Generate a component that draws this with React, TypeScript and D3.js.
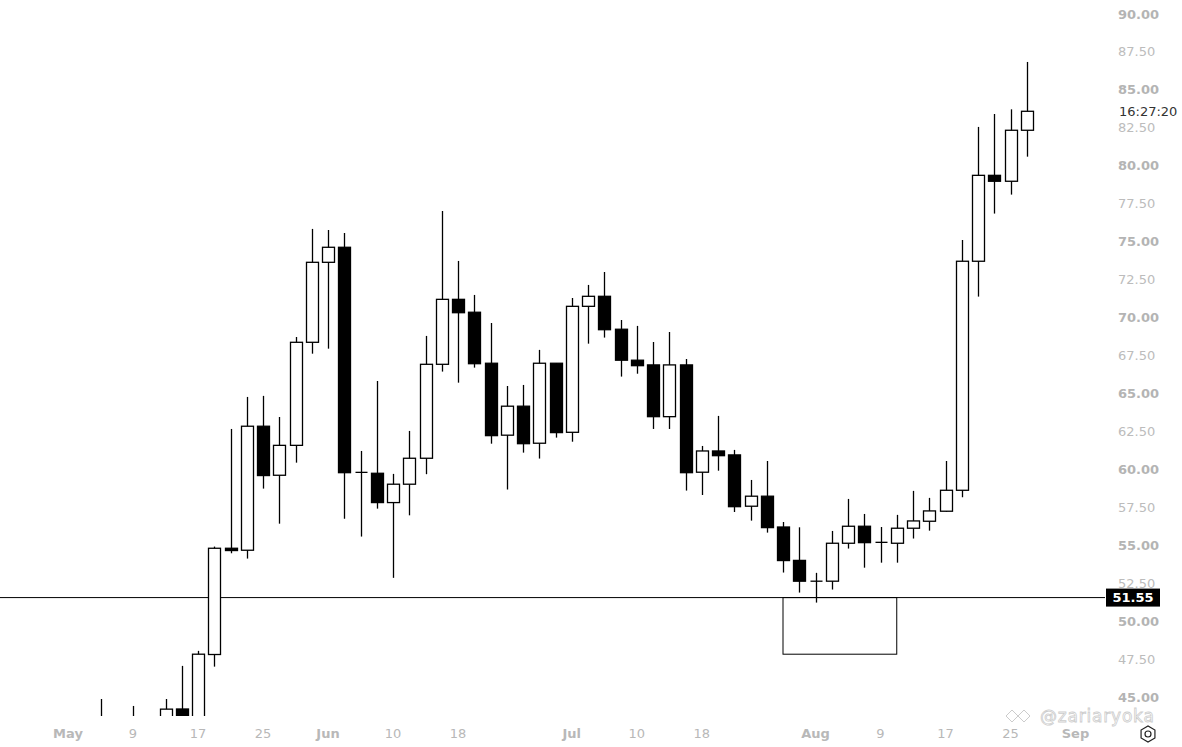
import React from 'react'
import * as d3 from 'd3'

// 2-day candles, index = slot on the time axis (slot 0 = "May" label)
const slots = [2,3,4,5,6,7,8,9,10,11,12,13,14,15,16,17,18,19,20,21,22,23,24,25,26,27,28,29,30,31,32,33,34,35,36,37,38,39,40,41,42,43,44,45,46,47,48,49,50,51,52,53,54,55,56,57,58,59]
const opens = [43.6,43.0,43.3,43.4,43.5,44.21,43.6,47.8,54.8,54.67,62.84,59.61,61.58,68.37,73.64,74.63,59.8,59.74,57.81,59.02,60.73,66.92,71.2,70.35,66.99,62.25,64.16,61.72,66.99,62.44,70.74,71.4,69.23,67.19,66.88,63.47,66.88,59.81,61.21,60.95,57.57,58.23,56.2,54.0,52.63,52.63,55.13,56.25,55.19,55.13,56.12,56.58,57.24,58.62,73.71,79.37,78.98,82.34]
const highs = [44.87,43.6,44.41,43.7,44.87,47.05,48.04,54.91,62.66,64.77,64.84,63.45,68.72,75.84,75.77,75.57,61.21,65.82,59.7,62.53,68.79,77.02,73.73,71.49,69.64,65.49,65.56,67.87,67.0,71.29,72.15,73.0,69.84,69.45,68.39,69.05,67.27,61.54,63.52,61.28,59.3,60.55,56.53,56.18,53.18,55.94,58.05,57.06,56.2,57.0,58.58,58.12,60.55,75.11,82.56,83.41,83.72,86.84]
const lows = [42.5,42.0,42.8,42.9,43.2,43.0,43.3,47.0,54.47,54.12,58.73,56.42,60.44,67.62,67.95,56.75,55.57,57.41,52.85,56.97,59.68,66.44,65.71,66.7,61.69,58.67,61.1,60.71,62.09,61.82,68.28,68.68,66.11,66.3,62.66,62.66,58.6,58.31,59.91,57.19,56.62,55.83,53.2,51.88,51.22,52.08,54.78,53.52,53.85,53.85,55.44,55.96,57.2,58.16,71.38,76.85,78.1,80.6]
const closes = [43.2,43.3,43.5,43.5,44.2,43.6,47.82,54.8,54.65,62.84,59.59,61.58,68.37,73.64,74.63,59.78,59.8,57.81,59.02,60.73,66.92,71.2,70.32,66.96,62.22,64.16,61.69,66.99,62.42,70.74,71.4,69.2,67.19,66.83,63.47,66.88,59.78,61.21,60.9,57.54,58.23,56.16,53.99,52.63,52.63,55.13,56.25,55.17,55.19,56.12,56.6,57.26,58.62,73.71,79.37,78.98,82.34,83.59]

const priceTicks = [90, 87.5, 85, 82.5, 80, 77.5, 75, 72.5, 70, 67.5, 65, 62.5, 60, 57.5, 55, 52.5, 50, 47.5, 45]
const dateLabels = ['May', '9', '17', '25', 'Jun', '10', '18', 'Jul', '10', '18', 'Aug', '9', '17', '25', 'Sep']
const dateSlots = [0, 4, 8, 12, 16, 20, 24, 31, 35, 39, 46, 50, 54, 58, 62]
const monthNames = ['May', 'Jun', 'Jul', 'Aug', 'Sep']

const levelPrice = 51.55
const boxLow = 47.82
const boxFrom = 44
const boxTo = 51
const countdown = '16:27:20'

const W = 1182
const H = 747
const plotRight = 1105
const plotBottom = 716

export default function App() {
  const x = d3.scaleLinear().domain([0, 1]).range([68, 84.25])
  const y = d3.scaleLinear().domain([45, 90]).range([697, 14])
  const bw = 12
  const font = '"DejaVu Sans", Verdana, sans-serif'

  const candles = slots.map((s, k) => ({
    s, o: opens[k], h: highs[k], l: lows[k], c: closes[k],
  }))

  const lastClose = closes[closes.length - 1]

  return (
    <div style={{ position: 'fixed', left: 0, top: 0, width: W, height: H, background: '#fff' }}>
      <svg width={W} height={H} style={{ display: 'block' }}>
        <defs>
          <clipPath id="plot">
            <rect x={0} y={0} width={plotRight} height={plotBottom} />
          </clipPath>
        </defs>

        {/* support level and box */}
        <line x1={0} x2={plotRight} y1={y(levelPrice)} y2={y(levelPrice)} stroke="#000" strokeWidth={1} />
        <rect
          x={x(boxFrom)}
          y={y(levelPrice)}
          width={x(boxTo) - x(boxFrom)}
          height={y(boxLow) - y(levelPrice)}
          fill="none"
          stroke="#000"
          strokeWidth={1}
        />

        <g clipPath="url(#plot)">
          {candles.map((d, k) => {
            const cx = Math.round(x(d.s)) + 0.5
            const up = d.c >= d.o
            const top = y(Math.max(d.o, d.c))
            const bot = y(Math.min(d.o, d.c))
            const doji = Math.abs(d.c - d.o) < 0.01
            return (
              <g key={k}>
                <line x1={cx} x2={cx} y1={y(d.h)} y2={y(d.l)} stroke="#000" strokeWidth={1.3} />
                {doji ? (
                  <line x1={cx - bw / 2} x2={cx + bw / 2} y1={top} y2={top} stroke="#000" strokeWidth={1.3} />
                ) : (
                  <rect
                    x={cx - bw / 2}
                    y={top}
                    width={bw}
                    height={Math.max(1, bot - top)}
                    fill={up ? '#fff' : '#000'}
                    stroke="#000"
                    strokeWidth={1.3}
                  />
                )}
              </g>
            )
          })}
        </g>

        {/* price axis */}
        {priceTicks.map((p) => {
          const major = p % 5 === 0
          return (
            <text
              key={p}
              x={1118}
              y={y(p)}
              dy="0.35em"
              fontFamily={font}
              fontSize={13}
              fontWeight={major ? 'bold' : 'normal'}
              fill={major ? '#b4b4b4' : '#bcbcbc'}
            >
              {p.toFixed(2)}
            </text>
          )
        })}

        <text x={1119} y={y(lastClose)} dy="0.35em" fontFamily={font} fontSize={13} fill="#333">
          {countdown}
        </text>

        <rect x={1106} y={y(levelPrice) - 9} width={54} height={18} fill="#000" />
        <text
          x={1133}
          y={y(levelPrice)}
          dy="0.36em"
          textAnchor="middle"
          fontFamily={font}
          fontSize={13}
          fontWeight="bold"
          fill="#fff"
        >
          {levelPrice.toFixed(2)}
        </text>

        {/* time axis */}
        {dateLabels.map((t, k) => (
          <text
            key={k}
            x={x(dateSlots[k])}
            y={733}
            dy="0.35em"
            textAnchor="middle"
            fontFamily={font}
            fontSize={13}
            fontWeight={monthNames.includes(t) ? 'bold' : 'normal'}
            fill="#b8b8b8"
          >
            {t}
          </text>
        ))}

        {/* watermark */}
        <g opacity={0.5}>
          <text
            x={1040}
            y={716}
            dy="0.35em"
            fontFamily={font}
            fontSize={17}
            letterSpacing={0.8}
            fill="#fff"
            stroke="#9a9a9a"
            strokeWidth={0.8}
          >
            @zariaryoka
          </text>
          <path
            d="M1006,716 l6,-6 l6,6 l6,-6 l6,6 l-6,6 l-6,-6 l-6,6 z"
            fill="none"
            stroke="#9a9a9a"
            strokeWidth={1}
          />
        </g>

        {/* settings icon */}
        <path
          d={d3.range(6).map((j) => {
            const a = (Math.PI / 3) * j + Math.PI / 6
            return `${j === 0 ? 'M' : 'L'}${1148 + 8 * Math.cos(a)},${734 + 8 * Math.sin(a)}`
          }).join(' ') + 'Z'}
          fill="#fff"
          stroke="#222"
          strokeWidth={1.2}
        />
        <circle cx={1148} cy={734} r={3} fill="none" stroke="#222" strokeWidth={1.2} />
      </svg>
    </div>
  )
}
